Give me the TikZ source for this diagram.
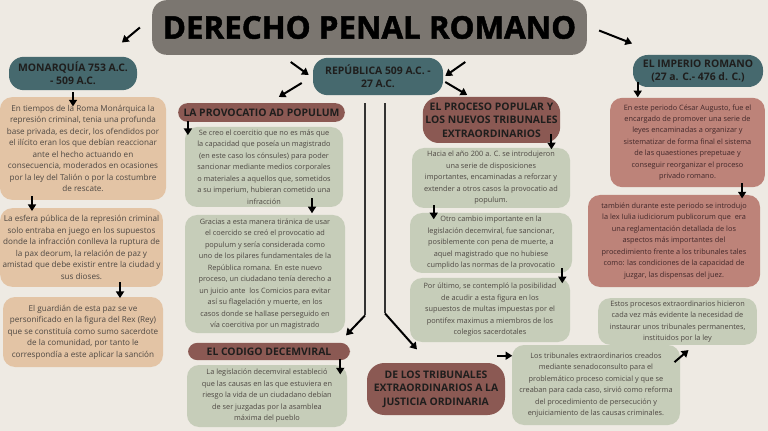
\documentclass[tikz,border=0pt]{standalone}
\usepackage{fontspec}
\setmainfont{Open Sans}
\newfontfamily\titulofont{Open Sans}[BoldFeatures={FakeBold=1.5}]
\usetikzlibrary{arrows.meta}

\definecolor{fondo}{HTML}{EEEAE3}
\definecolor{grisT}{HTML}{7B7670}
\definecolor{azul}{HTML}{46696E}
\definecolor{marron}{HTML}{8B5953}
\definecolor{tanc}{HTML}{E3C4A5}
\definecolor{verdec}{HTML}{C6CDB9}
\definecolor{rosac}{HTML}{BD8379}
\definecolor{txt}{HTML}{4E4843}
\definecolor{rosatxt}{HTML}{42282A}
\definecolor{negro}{HTML}{1F1E1D}

\begin{document}
\begin{tikzpicture}[x=0.75pt,y=-0.75pt,
  caja/.style={rounded corners=9pt, inner sep=1pt, align=center, text=txt},
  tan/.style={caja, fill=tanc, font=\fontsize{6.1}{8.6}\selectfont},
  verde/.style={caja, fill=verdec, font=\fontsize{5.5}{8.6}\selectfont},
  rosa/.style={caja, fill=rosac, text=rosatxt, font=\fontsize{5.5}{8.6}\selectfont},
  cabeza/.style={rounded corners=7pt, inner sep=1pt, fill=marron, align=center, text=negro, font=\fontsize{7.8}{10}\selectfont\bfseries},
  periodo/.style={cabeza, rounded corners=11pt, fill=azul},
  flecha/.style={-{Triangle[length=5pt,width=6pt]}, line width=1.5pt, black},
  linea/.style={line width=0.8pt, black!80}]

\fill[fondo] (0,0) rectangle (768,431);
\useasboundingbox (0,0) rectangle (768,431);

% titulo y periodos
\node[fill=grisT, rounded corners=11pt, minimum width=326pt, minimum height=41pt, text=black] at (369.5,27.5) (titulo)
  {\titulofont\fontsize{23.5}{24}\selectfont\bfseries DERECHO PENAL ROMANO};
\node[periodo, minimum width=96pt, minimum height=25pt] at (73,73.5) (mon) {MONARQUÍA 753 A.C.\\ - 509 A.C.};
\node[periodo, minimum width=97.5pt, minimum height=28pt] at (378,76.5) (rep) {REPÚBLICA 509 A.C. -\\ 27 A.C.};
\node[periodo, minimum width=97.5pt, minimum height=24pt] at (698,71) (imp) {EL IMPERIO ROMANO\\ (27 a. C.- 476 d. C.)};

% monarquia
\node[tan, minimum width=124.5pt, minimum height=77pt] at (83,148.5) (tan1) {En tiempos de la Roma Monárquica la\\ represión criminal, tenia una profunda\\ base privada, es decir, los ofendidos por\\ el ilícito eran los que debían reaccionar\\ ante el hecho actuando en\\ consecuencia, moderados en ocasiones\\ por la ley del Talión o por la costumbre\\ de rescate.};
\node[tan, minimum width=122pt, minimum height=59pt] at (81.5,247.5) (tan2) {La esfera pública de la represión criminal\\ solo entraba en juego en los supuestos\\ donde la infracción conlleva la ruptura de\\ la pax deorum, la relación de paz y\\ amistad que debe existir entre la ciudad y\\ sus dioses.};
\node[tan, minimum width=120pt, minimum height=52.5pt] at (83,332) (tan3) {El guardián de esta paz se ve\\ personificado en la figura del Rex (Rey)\\ que se constituía como sumo sacerdote\\ de la comunidad, por tanto le\\ correspondía a este aplicar la sanción};

% republica, columna izquierda
\node[cabeza, minimum width=125pt, minimum height=14pt] at (261.5,112.5) (prov) {LA PROVOCATIO AD POPULUM};
\node[verde, minimum width=118.5pt, minimum height=60pt] at (264,167) (ver1) {Se creo el coercitio que no es más que\\ la capacidad que poseía un magistrado\\ (en este caso los cónsules) para poder\\ sancionar mediante medios corporales\\ o materiales a aquellos que, sometidos\\ a su imperium, hubieran cometido una\\ infracción};
\node[verde, minimum width=120pt, minimum height=88.5pt] at (265,274) (ver2) {Gracias a esta manera tiránica de usar\\ el coercido se creó el provocatio ad\\ populum y sería considerada como\\ uno de los pilares fundamentales de la\\ República romana. En este nuevo\\ proceso, un ciudadano tenía derecho a\\ un juicio ante~ los Comicios para evitar\\ así su flagelación y muerte, en los\\ casos donde se hallase perseguido en\\ vía coercitiva por un magistrado};
\node[cabeza, minimum width=121.5pt, minimum height=13pt] at (269,351.5) (cod) {EL CODIGO DECEMVIRAL};
\node[verde, minimum width=120pt, minimum height=46.5pt] at (267,396) (ver3) {La legislación decemviral estableció\\ que las causas en las que estuviera en\\ riesgo la vida de un ciudadano debían\\ de ser juzgadas por la asamblea\\ máxima del pueblo};

% republica, columna derecha
\node[cabeza, rounded corners=12pt, minimum width=103pt, minimum height=34.5pt] at (491.5,120) (proc) {EL PROCESO POPULAR Y\\ LOS NUEVOS TRIBUNALES\\ EXTRAORDINARIOS};
\node[verde, minimum width=118.5pt, minimum height=45pt] at (491,178) (ver4) {Hacia el año 200 a. C. se introdujeron\\ una serie de disposiciones\\ importantes, encaminadas a reforzar y\\ extender a otros casos la provocatio ad\\ populum.};
\node[verde, minimum width=121.5pt, minimum height=45pt] at (491,243) (ver5) {Otro cambio importante en la\\ legislación decemviral, fue sancionar,\\ posiblemente con pena de muerte, a\\ aquel magistrado que no hubiese\\ cumplido las normas de la provocatio};
\node[verde, minimum width=120pt, minimum height=48pt] at (490,310) (ver6) {Por último, se contempló la posibilidad\\ de acudir a esta figura en los\\ supuestos de multas impuestas por el\\ pontifex maximus a miembros de los\\ colegios sacerdotales};
\node[cabeza, rounded corners=13pt, minimum width=103.5pt, minimum height=39pt] at (436,389) (trib) {DE LOS TRIBUNALES\\ EXTRAORDINARIOS A LA\\ JUSTICIA ORDINARIA};
\node[verde, minimum width=126pt, minimum height=60pt] at (596,385) (ver7) {Los tribunales extraordinarios creados\\ mediante senadoconsulto para el\\ problemático proceso comicial y que se\\ creaban para cada caso, sirvió como reforma\\ del procedimiento de persecución y\\ enjuiciamiento de las causas criminales.};

% imperio
\node[rosa, minimum width=116pt, minimum height=67pt] at (687.5,142.5) (rosa1) {En este periodo César Augusto, fue el\\ encargado de promover una serie de\\ leyes encaminadas a organizar y\\ sistematizar de forma final el sistema\\ de las quaestiones prepetuae y\\ conseguir reorganizar el proceso\\ privado romano.};
\node[rosa, minimum width=129pt, minimum height=69pt] at (674,241) (rosa2) {también durante este periodo se introdujo\\ la lex Iulia iudiciorum publicorum que~ era\\ una reglamentación detallada de los\\ aspectos más importantes del\\ procedimiento frente a los tribunales tales\\ como: las condiciones de la capacidad de\\ juzgar, las dispensas del juez.};
\node[verde, minimum width=119pt, minimum height=35pt] at (677.5,321.5) (ver8) {Estos procesos extraordinarios hicieron\\ cada vez más evidente la necesidad de\\ instaurar unos tribunales permanentes,\\ instituidos por la ley};

% flechas
\draw[flecha] ([shift={(-12,0)}]titulo.west) -- ++(-18,15);
\draw[flecha] ([shift={(12,3)}]titulo.east) -- ++(33,13);
\draw[flecha] ([shift={(-22,-14.5)}]rep.west) -- ++(18,13);
\draw[flecha] ([shift={(22,-14.5)}]rep.east) -- ++(-20,14);
\draw[flecha] ([shift={(2,5.5)}]rep.east) -- ++(22,13);
\draw[flecha] ([shift={(-11,6.5)}]rep.west) -- ++(-23,14);

\draw[linea] ([shift={(-13,8)}]rep.south) -- ++(0,212) coordinate (c1);
\draw[flecha] (c1) -- ++(-19,20);
\draw[linea] ([shift={(7,8)}]rep.south) -- ++(0,210) coordinate (c2);
\draw[flecha] (c2) -- ++(32,36);

\draw[flecha] ([yshift=-1.5pt]mon.south) -- ++(0,14);
\draw[flecha] ([shift={(-51,-4)}]tan1.south) -- ++(0,15);
\draw[flecha] ([shift={(38.5,-5)}]tan2.south) -- ++(0,16);
\draw[flecha] ([shift={(10,-1)}]prov.south west) -- ++(0,14);
\draw[flecha] ([shift={(48,-9)}]ver1.south) -- ++(0,15);
\draw[flecha] ([shift={(-10,-1)}]cod.south east) -- ++(0,15);
\draw[flecha] ([shift={(-9,-9)}]proc.south east) -- ++(0,15);
\draw[flecha] ([shift={(22,-3)}]ver4.south west) -- ++(0,14);
\draw[flecha] ([shift={(-10,-5)}]ver5.south east) -- ++(0,15);
\draw[flecha] ([shift={(5,-5)}]imp.south west) -- ++(0,15);
\draw[flecha] ([shift={(-23,-4)}]rosa1.south east) -- ++(0,15);
\draw[flecha] ([shift={(-8,-7)}]trib.north east) -- ++(15,0);
\draw[flecha] ([shift={(-3,17)}]ver8.south) -- ++(14,-12);

\end{tikzpicture}
\end{document}
